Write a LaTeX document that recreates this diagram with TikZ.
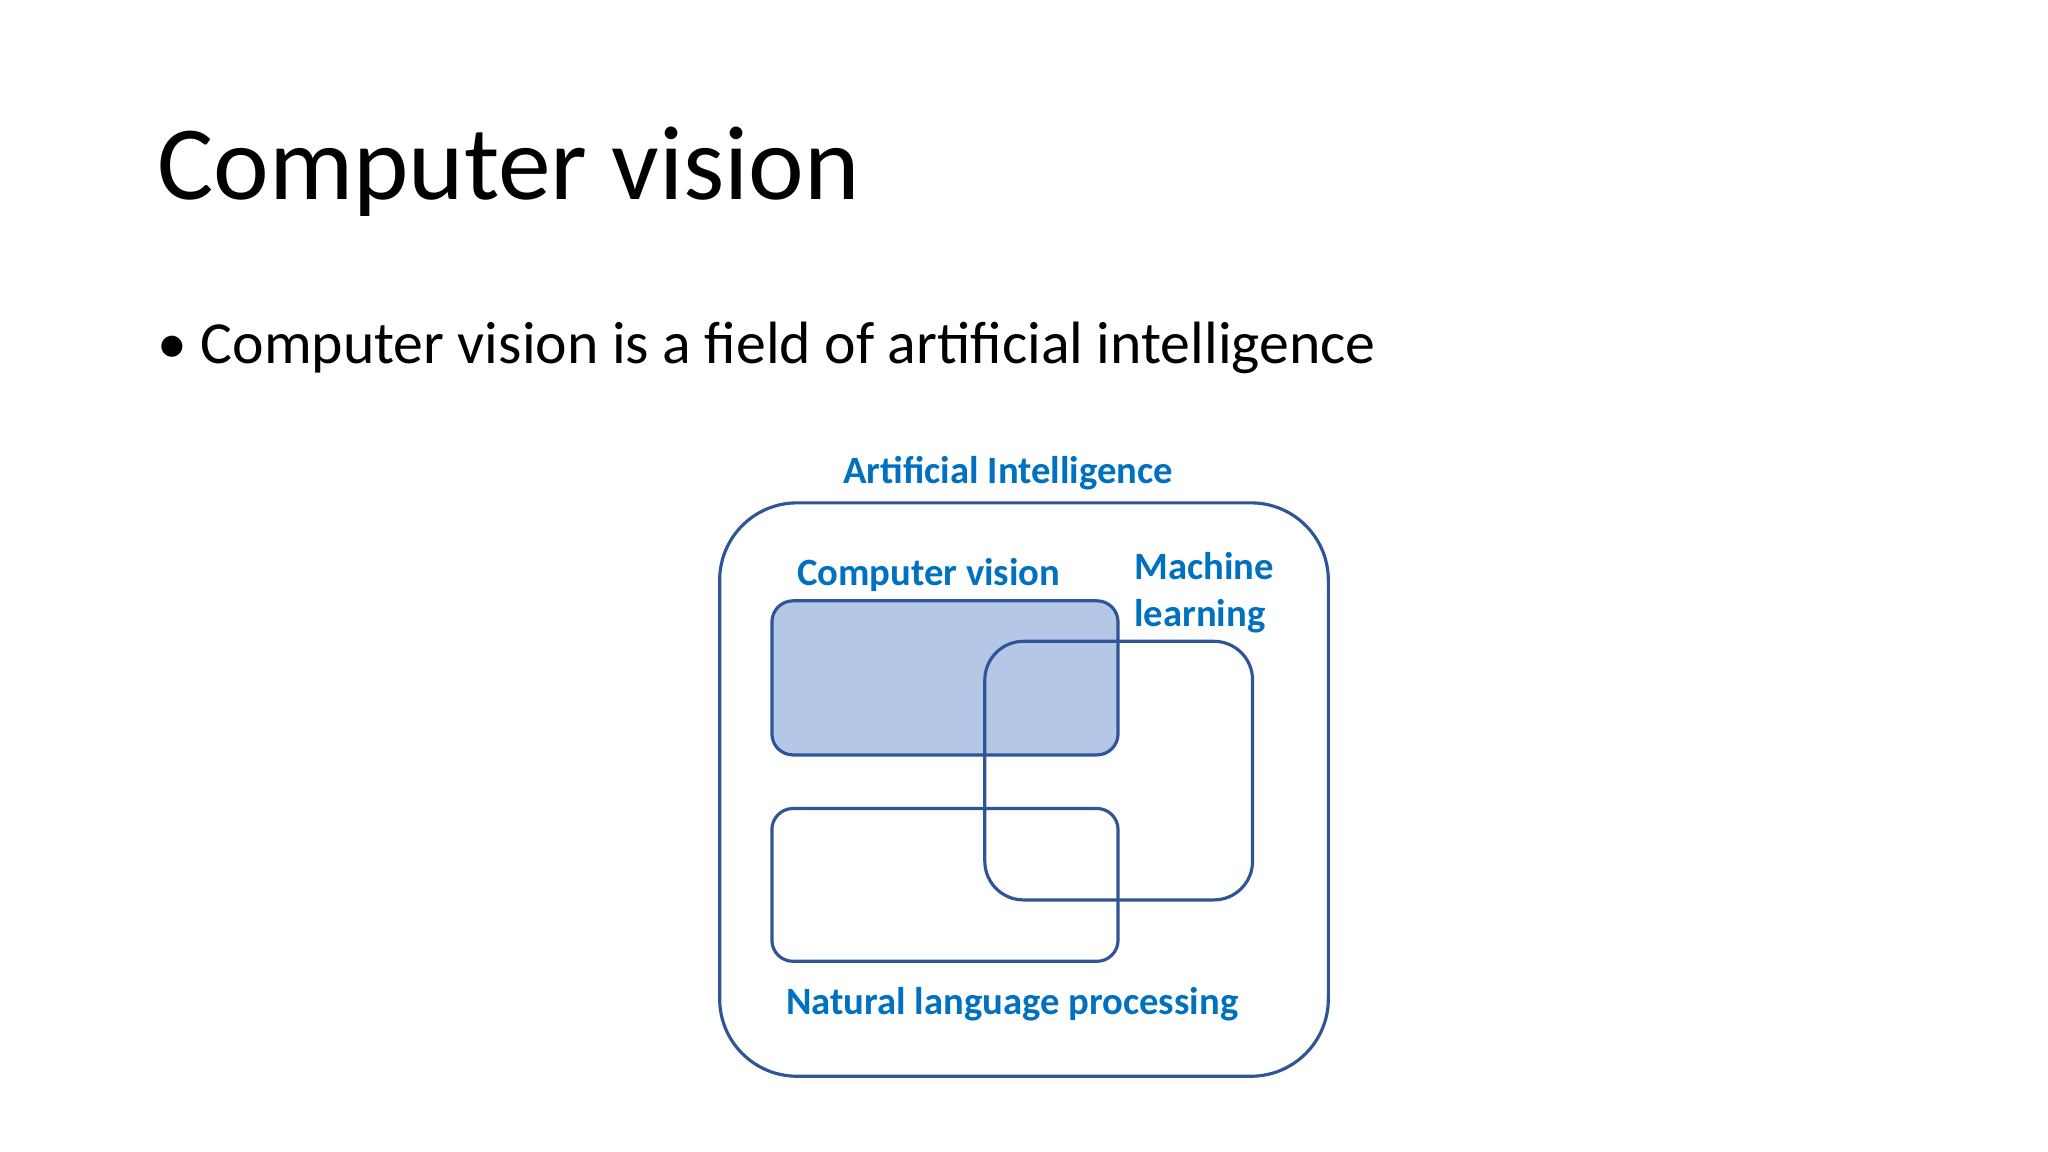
\documentclass[tikz,border=0pt]{standalone}
\usepackage{fontspec}
\setmainfont{Carlito}
\usepackage{tikz}
\usetikzlibrary{positioning}
\definecolor{boxline}{HTML}{2F5597}
\definecolor{boxfill}{HTML}{B4C7E7}
\definecolor{labelblue}{HTML}{0070C0}
\tikzset{
    field/.style={draw=boxline, line width=0.9pt, rounded corners=#1},
    tag/.style={text=labelblue, font=\fontsize{11}{13.5}\selectfont\bfseries, inner sep=0pt}
}
\begin{document}
\begin{tikzpicture}[x=0.01306cm, y=-0.01306cm]
    \useasboundingbox (0,0) rectangle (1568,882);

    \node [anchor=base west, inner sep=0pt, font=\fontsize{30}{36}\selectfont] (title) at (120,153) {Computer vision};
    \node [anchor=base west, inner sep=0pt, font=\fontsize{17}{20}\selectfont] (bullet) at (120,278) {\textbullet\ Computer vision is a field of artificial intelligence};

    \draw [field=22pt] (551,385) rectangle (1017,824);
    \draw [field=6pt, fill=boxfill] (591,460) rectangle (856,578);
    \draw [field=6pt] (591,619) rectangle (856,736);
    \draw [field=11pt] (754,491) rectangle (959,689);

    \node [tag] (ai) at (772,362) {Artificial Intelligence};
    \node [tag] (cv) at (711,440) {Computer vision};
    \node [tag, anchor=north west, align=left] (ml) at (868,422) {Machine\\learning};
    \node [tag] (nlp) at (775,769) {Natural language processing};
\end{tikzpicture}
\end{document}
